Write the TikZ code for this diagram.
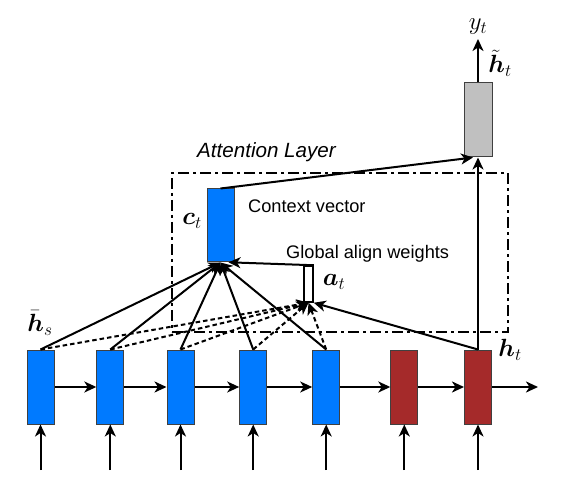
\documentclass[tikz,border=0pt]{standalone}
\usepackage{fontspec}
\setmainfont{Liberation Sans}
\usepackage{bm}
\usetikzlibrary{arrows.meta}
\definecolor{encblue}{RGB}{0,122,255}
\definecolor{decred}{RGB}{165,42,42}
\definecolor{outgray}{RGB}{192,192,192}
\begin{document}
\begin{tikzpicture}[x=1pt,y=-1pt,
  cell/.style={draw=black!75, line width=1pt, minimum width=27pt, minimum height=74pt, inner sep=0pt},
  enc/.style={cell, fill=encblue},
  dec/.style={cell, fill=decred},
  conn/.style={line width=2pt, -{Stealth[length=12pt,width=11pt,inset=3.5pt]}},
  dconn/.style={conn, dash pattern=on 4.5pt off 3pt},
  lab/.style={inner sep=0pt, font=\fontsize{26}{30}\selectfont},
  txt/.style={inner sep=0pt, font=\fontsize{18.2}{22}\selectfont},
  frame/.style={draw, line width=2pt, dash pattern=on 11pt off 4pt on 3pt off 4pt}]
\useasboundingbox (0,0) rectangle (570,486);
% attention frame
\node[frame, minimum width=336pt, minimum height=159pt, inner sep=0pt] (att) at (340,252.5) {};
% encoder / decoder cells
\node[enc] (s1) at (40.5,387) {};
\node[enc] (s2) at (110.3,387) {};
\node[enc] (s3) at (180.5,387) {};
\node[enc] (s4) at (253.2,387) {};
\node[enc] (s5) at (326.2,387) {};
\node[dec] (r6) at (404.3,387) {};
\node[dec] (r7) at (478,387) {};
\node[cell, fill=outgray, minimum width=28pt] (g) at (478,120) {};
\node[enc, minimum height=73pt] (ct) at (220.5,225.5) {};
\node[draw, line width=1.5pt, minimum width=9pt, minimum height=36pt, inner sep=0pt] (at) at (308.5,284) {};
% inputs
\foreach \n/\x in {s1/40.5,s2/110.3,s3/180.5,s4/253.2,s5/326.2,r6/404.3,r7/478}{
  \coordinate (in\n) at (\x,470);
  \draw[conn] (in\n) -- (\n.south);
}
% recurrent arrows
\draw[conn] (s1.east) -- (s2.west);
\draw[conn] (s2.east) -- (s3.west);
\draw[conn] (s3.east) -- (s4.west);
\draw[conn] (s4.east) -- (s5.west);
\draw[conn] (s5.east) -- (r6.west);
\draw[conn] (r6.east) -- (r7.west);
\coordinate (out) at (538,387);
\draw[conn] (r7.east) -- (out);
% dashed to a_t
\foreach \n in {s1,s2,s3,s4,s5}{
  \draw[dconn] (\n.north) -- (at.south);
}
% solid to c_t
\foreach \n in {s1,s2,s3,s4,s5}{
  \draw[conn] (\n.north) -- (ct.south);
}
\draw[conn] (r7.north) -- (at.south east);
\draw[conn, shorten >=-6pt] (at.north east) -- (ct.south east);
\draw[conn] (r7.north) -- (g.south);
\draw[conn] (ct.north) -- ([xshift=-5pt]g.south);
\coordinate (yt) at (478,39);
\draw[conn] (g.north) -- (yt);
% labels
\node[lab] (ylab) at (478,27) {$y_t$};
\node[lab] (htil) at (500,63) {$\tilde{\bm h}_t$};
\node[lab] (hlab) at (510,350) {$\bm h_t$};
\node[lab] (hs) at (40,323) {$\bar{\bm h}_s$};
\node[lab] (clab) at (192,221) {$\bm c_t$};
\node[lab] (alab) at (334,282) {$\bm a_t$};
\node[txt, anchor=base west, font=\fontsize{20.6}{24}\selectfont\itshape] (attl) at (197,158) {Attention Layer};
\node[txt, anchor=base west] (cv) at (248,213) {Context vector};
\node[txt, anchor=base west] (gw) at (286,259) {Global align weights};
\end{tikzpicture}
\end{document}
